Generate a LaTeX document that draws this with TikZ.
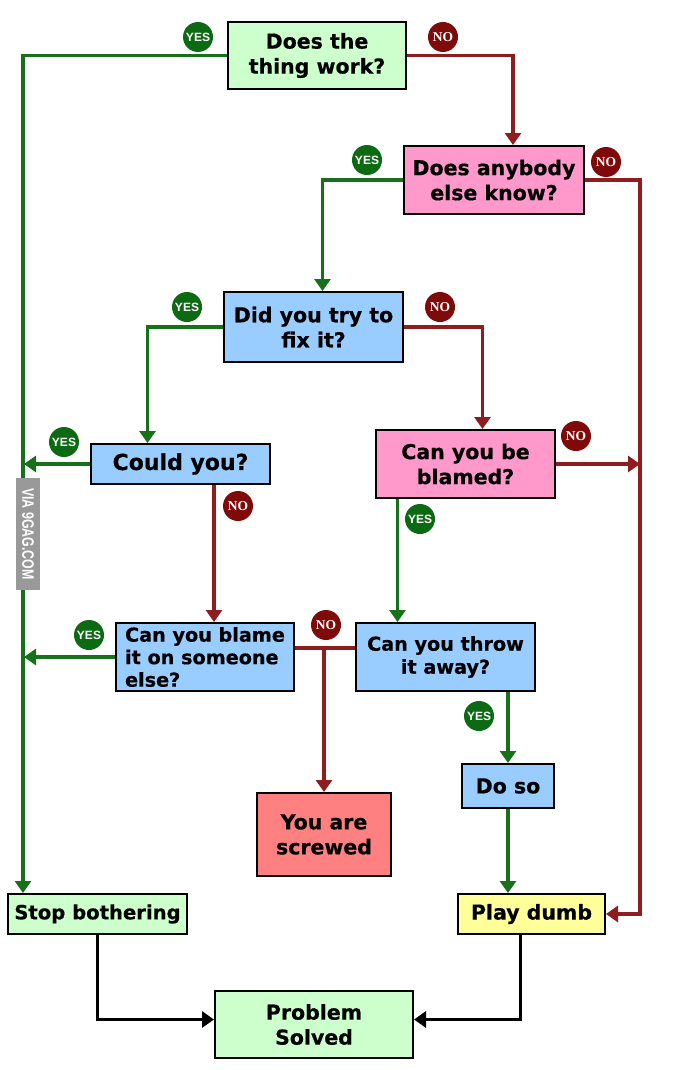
\documentclass[tikz,border=0pt]{standalone}
\usepackage{fontspec}
\setmainfont{DejaVu Sans}[BoldFeatures={FakeBold=0.5}]
\newfontfamily\yesfont{Liberation Sans}
\newfontfamily\nofont{Liberation Serif}
\newfontfamily\tagfont[FakeStretch=0.75]{Liberation Sans}
\usetikzlibrary{arrows.meta}

\definecolor{boxgreen}{HTML}{CCFFCC}
\definecolor{boxpink}{HTML}{FF99CC}
\definecolor{boxblue}{HTML}{99CCFF}
\definecolor{boxred}{HTML}{FF8080}
\definecolor{boxyellow}{HTML}{FFFF99}
\definecolor{yesgreen}{HTML}{17701A}
\definecolor{nored}{HTML}{8E1D1D}
\definecolor{badgegreen}{HTML}{0B6A12}
\definecolor{badgered}{HTML}{7F0A0A}

\begin{document}
\begin{tikzpicture}[x=1pt, y=-1pt,
  box/.style={draw=black, line width=2pt, align=center, inner sep=0pt,
    font=\bfseries\fontsize{20.5}{25}\selectfont},
  tip/.style={-{Triangle[width=16pt,length=12pt]}},
  yesline/.style={draw=yesgreen, line width=3.3pt},
  noline/.style={draw=nored, line width=3.3pt},
  yes/.style={yesline, tip},
  no/.style={noline, tip},
  done/.style={draw=black, line width=3.8pt, tip},
  yesbadge/.style={circle, fill=badgegreen, text=white, minimum size=30pt,
    inner sep=0pt, font=\yesfont\bfseries\fontsize{12}{12}\selectfont},
  nobadge/.style={circle, fill=badgered, text=white, minimum size=30pt,
    inner sep=0pt, font=\nofont\bfseries\fontsize{13.5}{13.5}\selectfont}]

  % page
  \fill[white] (0,0) rectangle (675,1070);
  \useasboundingbox (0,0) rectangle (675,1070);

  % questions
  \node[box, fill=boxgreen, minimum width=178, minimum height=67] (work) at (317,55.5) {Does the\\thing work?};
  \node[box, fill=boxpink, minimum width=180, minimum height=68] (know) at (494,180) {Does anybody\\else know?};
  \node[box, fill=boxblue, minimum width=179, minimum height=70] (fix) at (313.5,327) {Did you try to\\fix it?};
  \node[box, fill=boxblue, minimum width=179, minimum height=40,
    font=\bfseries\fontsize{22}{25}\selectfont] (could) at (180.5,464) {Could you?};
  \node[box, fill=boxpink, minimum width=179, minimum height=68] (blamed) at (465.5,464) {Can you be\\blamed?};
  \node[box, fill=boxblue, minimum width=178, minimum height=68, align=left,
    font=\bfseries\fontsize{19.2}{22.5}\selectfont] (blame) at (205,657) {Can you blame\\it on someone\\else?};
  \node[box, fill=boxblue, minimum width=179, minimum height=68,
    font=\bfseries\fontsize{19.2}{23}\selectfont] (throw) at (445.5,657) {Can you throw\\it away?};

  % answers
  \node[box, fill=boxblue, minimum width=92, minimum height=44] (doso) at (508,786) {Do so};
  \node[box, fill=boxred, minimum width=134, minimum height=83] (screwed) at (324,834.5) {You are\\screwed};
  \node[box, fill=boxgreen, minimum width=179, minimum height=40,
    font=\bfseries\fontsize{19.6}{25}\selectfont] (stop) at (97.5,914) {Stop bothering};
  \node[box, fill=boxyellow, minimum width=147, minimum height=40] (dumb) at (531.5,914) {Play dumb};
  \node[box, fill=boxgreen, minimum width=198, minimum height=67] (solved) at (314,1024.5) {Problem\\Solved};

  % free ends
  \coordinate (nocol) at (640,180);
  \coordinate (nocol2) at (640,464);
  \coordinate (ycol1) at (24,464);
  \coordinate (ycol2) at (24,657);
  \coordinate (nojoin) at ([yshift=9pt]blame.east);

  % connectors
  \draw[yes] (work.west) -| ([xshift=16pt]stop.north west);
  \draw[no] (work.east) -| ([xshift=19pt]know.north);
  \draw[yes] (know.west) -| ([xshift=9pt]fix.north);
  \draw[no] (know.east) -- (nocol) |- (dumb.east);
  \draw[yes] (fix.west) -| ([xshift=-33pt]could.north);
  \draw[no] (fix.east) -| ([xshift=17pt]blamed.north);
  \draw[yes] (could.west) -- (ycol1);
  \draw[no] ([xshift=33.5pt]could.south) -- ([xshift=9pt]blame.north);
  \draw[no] (blamed.east) -- (nocol2);
  \draw[yes] ([xshift=-68pt]blamed.south) -- ([xshift=-48pt]throw.north);
  \draw[yes] (blame.west) -- (ycol2);
  \draw[noline] (nojoin) -- (nojoin -| throw.west);
  \draw[no] (nojoin -| screwed.north) -- (screwed.north);
  \draw[yes] (doso.north |- throw.south) -- (doso.north);
  \draw[yes] (doso.south) -- (doso.south |- dumb.north);
  \draw[done] (stop.south) |- ([yshift=5pt]solved.west);
  \draw[done] ([xshift=-11pt]dumb.south) |- ([yshift=5pt]solved.east);

  % badges
  \node[yesbadge] (y1) at (198,37) {YES};
  \node[yesbadge] (y2) at (367,160) {YES};
  \node[yesbadge] (y3) at (187,307) {YES};
  \node[yesbadge] (y4) at (64,442) {YES};
  \node[yesbadge] (y5) at (420,519) {YES};
  \node[yesbadge] (y6) at (89,635) {YES};
  \node[yesbadge] (y7) at (479,716) {YES};
  \node[nobadge] (n1) at (443,37) {NO};
  \node[nobadge] (n2) at (606,162) {NO};
  \node[nobadge] (n3) at (440,307) {NO};
  \node[nobadge] (n4) at (576,436) {NO};
  \node[nobadge] (n5) at (238,506) {NO};
  \node[nobadge] (n6) at (326,625) {NO};

  % watermark
  \node[fill=black!40, text=white, rotate=-90, minimum width=112, minimum height=24, inner sep=0pt,
    font=\tagfont\bfseries\fontsize{16.5}{16.5}\selectfont] (via) at (28,534) {VIA 9GAG.COM};

\end{tikzpicture}
\end{document}
